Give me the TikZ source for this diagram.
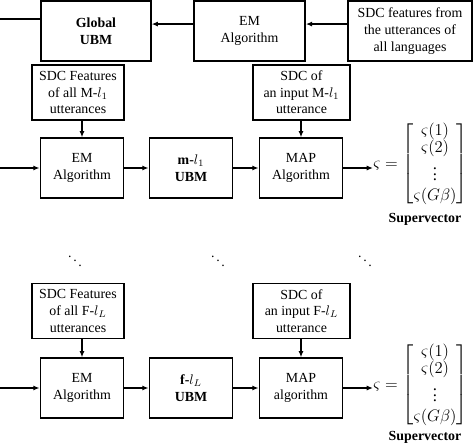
\documentclass[tikz,border=0pt]{standalone}
\usepackage{amsmath}
\usepackage{fontspec}
\setmainfont{Liberation Serif}
\usetikzlibrary{arrows.meta}
\newcommand{\supvec}{$\varsigma=\begin{bmatrix}\varsigma(1)\\[-2pt]\varsigma(2)\\[1pt]\vdots\\[0pt]\varsigma(G\beta)\end{bmatrix}$}
\begin{document}
\begin{tikzpicture}[x=0.72pt,y=-0.72pt,
  box/.style={draw,line width=1.1pt,align=center,inner sep=1pt},
  blk/.style={box,minimum width=60pt,minimum height=43pt},
  feat/.style={box,minimum height=39.6pt},
  vec/.style={anchor=west,inner sep=0pt,font=\large},
  arr/.style={line width=1.1pt,-{Latex[length=4.5pt,width=3.6pt]}}]
\useasboundingbox (0,0) rectangle (474,444);
\node[box,minimum width=79pt,minimum height=43pt] (glob) at (96,31) {\textbf{Global}\\\textbf{UBM}};
\node[box,minimum width=80pt,minimum height=43pt] (emtop) at (249.5,31) {EM\\Algorithm};
\node[box,minimum width=89pt,minimum height=43pt] (sdcall) at (410,31) {SDC features from\\the utterances of\\all languages};
\coordinate (gout) at (0,19);
\draw[arr] ([yshift=5pt]sdcall.west) -- ([yshift=5pt]emtop.east);
\draw[arr] ([yshift=5pt]emtop.west) -- ([yshift=5pt]glob.east);
\draw[line width=1.1pt] (glob.west |- gout) -- (gout);
\node[feat,minimum width=66pt] (feat1) at (78,92.5) {SDC Features\\of all M-$l_1$\\utterances};
\node[feat,minimum width=70pt] (inp1) at (301.5,92.5) {SDC of\\an input M-$l_1$\\utterance};
\node[blk] (em1) at (82,168) {EM\\Algorithm};
\node[blk] (ubm1) at (191,168) {\textbf{m-}$l_1$\\\textbf{UBM}};
\node[blk] (map1) at (301,168) {MAP\\Algorithm};
\node[vec] (sv1) at (373,164) {\supvec};
\node (lab1) at (425,219) {\textbf{Supervector}};
\coordinate (in1) at (0,168);
\draw[arr] (in1) -- (em1);
\draw[arr] (em1) -- (ubm1);
\draw[arr] (ubm1) -- (map1);
\draw[arr] (map1.east) -- (map1.east -| sv1.west);
\draw[arr] (em1.north |- feat1.south) -- (em1.north);
\draw[arr] (map1.north |- inp1.south) -- (map1.north);
\node (d1) at (75,257) {$\ddots$};
\node (d2) at (218,257) {$\ddots$};
\node (d3) at (365,257) {$\ddots$};
\node[feat,minimum width=66pt] (feat2) at (78,311) {SDC Features\\of all F-$l_L$\\utterances};
\node[feat,minimum width=70pt] (inp2) at (301.5,311) {SDC of\\an input F-$l_L$\\utterance};
\node[blk] (em2) at (82,388) {EM\\Algorithm};
\node[blk] (ubm2) at (191,388) {\textbf{f-}$l_L$\\\textbf{UBM}};
\node[blk] (map2) at (301,388) {MAP\\algorithm};
\node[vec] (sv2) at (373,385) {\supvec};
\node (lab2) at (425,437) {\textbf{Supervector}};
\coordinate (in2) at (0,388);
\draw[arr] (in2) -- (em2);
\draw[arr] (em2) -- (ubm2);
\draw[arr] (ubm2) -- (map2);
\draw[arr] (map2.east) -- (map2.east -| sv2.west);
\draw[arr] (em2.north |- feat2.south) -- (em2.north);
\draw[arr] (map2.north |- inp2.south) -- (map2.north);
\end{tikzpicture}
\end{document}
